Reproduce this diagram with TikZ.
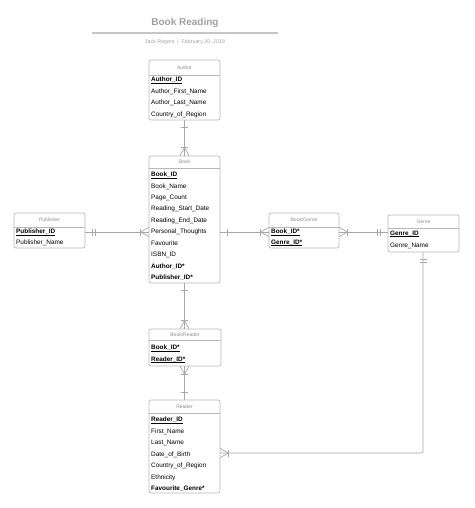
\documentclass[tikz,border=0pt]{standalone}
\usepackage{fontspec}
\setmainfont{Liberation Sans}
\usetikzlibrary{fit,calc}
\definecolor{boxc}{HTML}{B8B8B8}
\definecolor{linec}{HTML}{A8A8A8}
\definecolor{hdrc}{HTML}{8C8C8C}
\definecolor{titc}{HTML}{A0A0A0}
\tikzset{
  ebox/.style={draw=boxc, line width=0.7pt, rounded corners=2pt, inner sep=0pt},
  ediv/.style={draw=boxc, line width=0.7pt},
  hdr/.style={font=\fontsize{5}{6}\selectfont, text=hdrc, inner sep=0pt},
  fld/.style={font=\fontsize{6.4}{7}\selectfont, anchor=west, inner sep=0pt},
  conn/.style={draw=linec, line width=0.7pt},
  pics/one/.style={code={\draw[conn] (-7,-3.5) -- (-7,3.5);}},
  pics/onlyone/.style={code={\draw[conn] (-7,-3.5) -- (-7,3.5); \draw[conn] (-10,-3.5) -- (-10,3.5);}},
  pics/many/.style={code={\draw[conn] (-8,0) -- (0,4.5); \draw[conn] (-8,0) -- (0,-4.5); \draw[conn] (-8,-3.5) -- (-8,3.5);}}
}
\newcommand\entity[7]{%
  \node[ebox, fit={(#2,#3) (#4,#5)}] (#1) {};
  \draw[ediv] (#2,#6) -- (#4,#6);
  \node[hdr] (#1-h) at ({(#2+#4)/2},{(#3+#6)/2}) {#7};
}
\newsavebox\keybox
\newcommand\key[1]{\sbox\keybox{\textbf{#1}}\usebox\keybox\llap{\rule[-1.1pt]{\wd\keybox}{0.35pt}}}
\begin{document}
\begin{tikzpicture}[x=1pt,y=-1pt]
\useasboundingbox (0,0) rectangle (474,508);
% title
\node[font=\bfseries\fontsize{10}{12}\selectfont, text=titc, inner sep=0pt] (title) at (185,23) {Book Reading};
\coordinate (tl) at (92,33);
\coordinate (tr) at (278,33);
\draw[draw=boxc!80, line width=1.2pt] (tl) -- (tr);
\node[font=\fontsize{5.3}{6}\selectfont, text=titc, inner sep=0pt] (sub) at (185,42) {Jack Rogers \ | \ February 20, 2018};

% Author
\entity{author}{149}{60}{220}{120}{75}{Author}
\node[fld] (author-1) at (151,80) {\key{Author\_ID}};
\node[fld] (author-2) at (151,91.5) {Author\_First\_Name};
\node[fld] (author-3) at (151,103) {Author\_Last\_Name};
\node[fld] (author-4) at (151,114.5) {Country\_of\_Region};

% Book
\entity{book}{149}{156}{220}{283}{168}{Book}
\node[fld] (book-1) at (151,175) {\key{Book\_ID}};
\node[fld] (book-2) at (151,186.4) {Book\_Name};
\node[fld] (book-3) at (151,197.8) {Page\_Count};
\node[fld] (book-4) at (151,209.2) {Reading\_Start\_Date};
\node[fld] (book-5) at (151,220.6) {Reading\_End\_Date};
\node[fld] (book-6) at (151,232) {Personal\_Thoughts};
\node[fld] (book-7) at (151,243.4) {Favourite};
\node[fld] (book-8) at (151,254.8) {ISBN\_ID};
\node[fld] (book-9) at (151,266.2) {\textbf{Author\_ID*}};
\node[fld] (book-10) at (151,277.6) {\textbf{Publisher\_ID*}};

% Publisher
\entity{pub}{14}{213}{85}{248}{227}{Publisher}
\node[fld] (pub-1) at (16,232) {\key{Publisher\_ID}};
\node[fld] (pub-2) at (16,243) {Publisher\_Name};

% Book/Genre
\entity{bg}{269}{213}{339}{248}{227}{Book/Genre}
\node[fld] (bg-1) at (271,232) {\key{Book\_ID*}};
\node[fld] (bg-2) at (271,243) {\key{Genre\_ID*}};

% Genre
\entity{genre}{388}{215}{459}{252}{228}{Genre}
\node[fld] (genre-1) at (390,234) {\key{Genre\_ID}};
\node[fld] (genre-2) at (390,245.5) {Genre\_Name};

% Book/Reader
\entity{br}{149}{329}{221}{366}{340}{Book/Reader}
\node[fld] (br-1) at (151,348) {\key{Book\_ID*}};
\node[fld] (br-2) at (151,359.5) {\key{Reader\_ID*}};

% Reader
\entity{reader}{149}{400}{220}{493}{413}{Reader}
\node[fld] (reader-1) at (151,420) {\key{Reader\_ID}};
\node[fld] (reader-2) at (151,431.5) {First\_Name};
\node[fld] (reader-3) at (151,443) {Last\_Name};
\node[fld] (reader-4) at (151,454.5) {Date\_of\_Birth};
\node[fld] (reader-5) at (151,466) {Country\_of\_Region};
\node[fld] (reader-6) at (151,477.5) {Ethnicity};
\node[fld] (reader-7) at (151,489) {\textbf{Favourite\_Genre*}};

% connectors
\coordinate (row) at (0,232);
\coordinate (vx) at (184.5,0);
\coordinate (gx) at (423,0);
\coordinate (ry) at (0,453);
\coordinate (corner) at (423,453);

% Author - Book
\draw[conn] (author.south -| vx) -- (book.north -| vx);
\pic[rotate=90] at (author.south -| vx) {one};
\pic[rotate=-90] at (book.north -| vx) {many};

% Publisher - Book
\draw[conn] (pub.east |- row) -- (book.west |- row);
\pic[rotate=180] at (pub.east |- row) {onlyone};
\pic at (book.west |- row) {many};

% Book - Book/Genre
\draw[conn] (book.east |- row) -- (bg.west |- row);
\pic[rotate=180] at (book.east |- row) {one};
\pic at (bg.west |- row) {many};

% Book/Genre - Genre
\draw[conn] (bg.east |- row) -- (genre.west |- row);
\pic[rotate=180] at (bg.east |- row) {many};
\pic at (genre.west |- row) {onlyone};

% Book - Book/Reader
\draw[conn] (book.south -| vx) -- (br.north -| vx);
\pic[rotate=90] at (book.south -| vx) {one};
\pic[rotate=-90] at (br.north -| vx) {many};

% Book/Reader - Reader
\draw[conn] (br.south -| vx) -- (reader.north -| vx);
\pic[rotate=90] at (br.south -| vx) {many};
\pic[rotate=-90] at (reader.north -| vx) {one};

% Genre - Reader
\draw[conn, rounded corners=2pt] (genre.south -| gx) -- (corner) -- (reader.east |- ry);
\pic[rotate=90] at (genre.south -| gx) {onlyone};
\pic[rotate=180] at (reader.east |- ry) {many};
\end{tikzpicture}
\end{document}
